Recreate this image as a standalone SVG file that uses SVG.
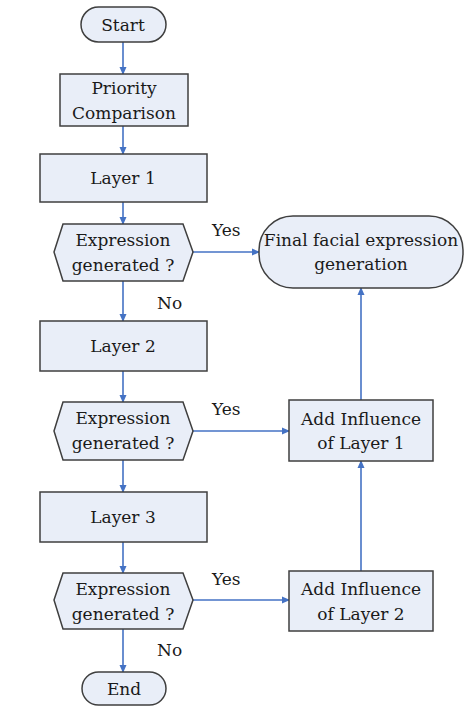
<svg xmlns="http://www.w3.org/2000/svg" width="474" height="708" viewBox="0 0 474 708">
<defs>
<marker id="ah" markerWidth="8" markerHeight="8" refX="7" refY="4" orient="auto" markerUnits="userSpaceOnUse">
<path d="M0,0.5 L8,4 L0,7.5 Z" fill="#4472c4"/>
</marker>
<style>
.n{fill:#e9eef8;stroke:#3f3f3f;stroke-width:1.5}
text{font-family:'DejaVu Serif','Liberation Serif',serif;font-size:17px;fill:#1a1a1a}
.t{text-anchor:middle}
.c{stroke:#4472c4;stroke-width:1.6;fill:none;marker-end:url(#ah)}
</style>
</defs>
<rect width="474" height="708" fill="#ffffff"/>
<g id="connectors">
<line class="c" x1="123" y1="42" x2="123" y2="74"/>
<line class="c" x1="123" y1="126" x2="123" y2="154"/>
<line class="c" x1="123" y1="202" x2="123" y2="224"/>
<line class="c" x1="123" y1="281" x2="123" y2="321"/>
<line class="c" x1="123" y1="371" x2="123" y2="402"/>
<line class="c" x1="123" y1="460" x2="123" y2="492"/>
<line class="c" x1="123" y1="542" x2="123" y2="573"/>
<line class="c" x1="123" y1="629" x2="123" y2="672"/>
<line class="c" x1="193" y1="252" x2="259" y2="252"/>
<line class="c" x1="193" y1="431" x2="289" y2="431"/>
<line class="c" x1="193" y1="600" x2="289" y2="600"/>
<line class="c" x1="361" y1="400" x2="361" y2="288"/>
<line class="c" x1="361" y1="571" x2="361" y2="461"/>
<text x="212" y="236">Yes</text>
<text x="212" y="415">Yes</text>
<text x="212" y="585">Yes</text>
<text x="157" y="309">No</text>
<text x="157" y="656">No</text>
</g>
<g id="start">
<rect class="n" x="81" y="7" width="85" height="35" rx="17.5"/>
<text class="t" x="123" y="31">Start</text>
</g>
<g id="priority">
<rect class="n" x="60" y="74" width="128" height="52"/>
<text class="t" x="124" y="94">Priority</text>
<text class="t" x="124" y="119">Comparison</text>
</g>
<g id="layer1">
<rect class="n" x="40" y="154" width="167" height="48"/>
<text class="t" x="123" y="184">Layer 1</text>
</g>
<g id="decision1">
<polygon class="n" points="54,252 63,224 183,224 193,252 183,281 63,281"/>
<text class="t" x="123" y="246">Expression</text>
<text class="t" x="123" y="271">generated ?</text>
</g>
<g id="layer2">
<rect class="n" x="40" y="321" width="167" height="50"/>
<text class="t" x="123" y="352">Layer 2</text>
</g>
<g id="decision2">
<polygon class="n" points="54,431 63,402 183,402 193,431 183,460 63,460"/>
<text class="t" x="123" y="424">Expression</text>
<text class="t" x="123" y="449">generated ?</text>
</g>
<g id="layer3">
<rect class="n" x="40" y="492" width="167" height="50"/>
<text class="t" x="123" y="523">Layer 3</text>
</g>
<g id="decision3">
<polygon class="n" points="54,600 63,573 183,573 193,600 183,629 63,629"/>
<text class="t" x="123" y="595">Expression</text>
<text class="t" x="123" y="620">generated ?</text>
</g>
<g id="end">
<rect class="n" x="82" y="672" width="84" height="33" rx="16.5"/>
<text class="t" x="124" y="695">End</text>
</g>
<g id="final">
<rect class="n" x="259" y="216" width="204" height="72" rx="34"/>
<text class="t" x="361" y="246">Final facial expression</text>
<text class="t" x="361" y="270">generation</text>
</g>
<g id="influence1">
<rect class="n" x="289" y="400" width="144" height="61"/>
<text class="t" x="361" y="425">Add Influence</text>
<text class="t" x="361" y="449">of Layer 1</text>
</g>
<g id="influence2">
<rect class="n" x="289" y="571" width="144" height="60"/>
<text class="t" x="361" y="595">Add Influence</text>
<text class="t" x="361" y="620">of Layer 2</text>
</g>
</svg>
